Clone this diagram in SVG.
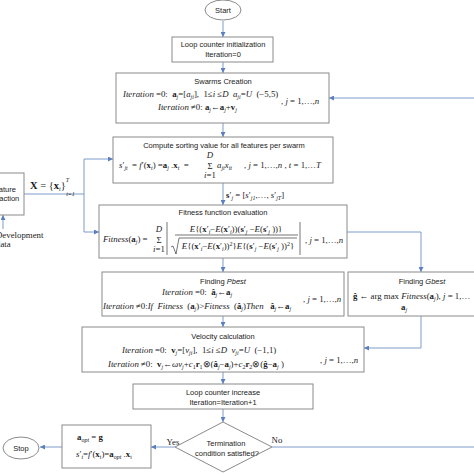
<svg xmlns="http://www.w3.org/2000/svg" width="474" height="474" viewBox="0 0 474 474">
<style>
.box{fill:#fff;stroke:#8a8a8a;stroke-width:1}
.conn{fill:none;stroke:#7391c4;stroke-width:0.9}
.t{font-family:"Liberation Sans",Arial,sans-serif;font-size:7.5px;fill:#1a1a1a;text-anchor:middle}
.m{font-family:"Liberation Serif","Times New Roman",serif;font-size:8.8px;fill:#1a1a1a}
.i{font-style:italic}
.b{font-weight:bold}
.s{font-size:6px}
.bar{fill:none;stroke:#1a1a1a;stroke-width:0.6}
</style>
<defs>
<marker id="ah" viewBox="0 0 6 6" refX="6" refY="3" markerWidth="5" markerHeight="5" orient="auto" markerUnits="userSpaceOnUse">
<path d="M0,0 L6,3 L0,6 z" fill="#5b7fbf"/>
</marker>
</defs>
<rect width="474" height="474" fill="#fff"/>

<g id="connectors">
<path class="conn" d="M223,21 V37" marker-end="url(#ah)"/>
<path class="conn" d="M223,62 V73" marker-end="url(#ah)"/>
<path class="conn" d="M223,123 V137" marker-end="url(#ah)"/>
<path class="conn" d="M223,183 V205" marker-end="url(#ah)"/>
<path class="conn" d="M223,258 V272" marker-end="url(#ah)"/>
<path class="conn" d="M223,316 V327" marker-end="url(#ah)"/>
<path class="conn" d="M223,372 V384" marker-end="url(#ah)"/>
<path class="conn" d="M223,409 V422" marker-end="url(#ah)"/>
<path class="conn" d="M272,447 H482 V98 H329" marker-end="url(#ah)"/>
<path class="conn" d="M24,194 H84 V159 H113" marker-end="url(#ah)"/>
<path class="conn" d="M84,194 V232 H99" marker-end="url(#ah)"/>
<path class="conn" d="M347,232 H421 V272" marker-end="url(#ah)"/>
<path class="conn" d="M421,316 V348 H364" marker-end="url(#ah)"/>
<path class="conn" d="M175,447 H151" marker-end="url(#ah)"/>
<path class="conn" d="M62,447 H40" marker-end="url(#ah)"/>
<path class="conn" d="M3,229 V215" marker-end="url(#ah)"/>
<text class="m" x="173" y="445" text-anchor="middle">Yes</text>
<text class="m" x="277" y="443" text-anchor="middle">No</text>
<text class="m" x="30" y="189"><tspan class="b" font-size="10.5">X</tspan><tspan font-size="10.5"> = {</tspan><tspan class="b" font-size="10.5">x</tspan><tspan class="i s" dy="2">t</tspan><tspan font-size="10.5" dy="-2">}</tspan><tspan class="i s" dy="-7">T</tspan><tspan class="i s" dx="-3" dy="14">t=1</tspan></text>
<text class="m" x="226" y="198" font-size="10.5"><tspan class="b">s</tspan>′<tspan class="i s" dy="2">j</tspan><tspan dy="-2"> = [</tspan><tspan class="i">s</tspan>′<tspan class="i s" dy="2">j1</tspan><tspan dy="-2">,…, </tspan><tspan class="i">s</tspan>′<tspan class="i s" dy="2">jT</tspan><tspan dy="-2">]</tspan></text>
</g>

<g id="start">
<ellipse class="box" cx="223" cy="10" rx="18" ry="10"/>
<text class="t" x="223" y="13">Start</text>
</g>

<g id="init">
<rect class="box" x="172" y="37" width="101" height="25"/>
<text class="t" x="223" y="47">Loop counter initialization</text>
<text class="t" x="223" y="57">Iteration=0</text>
</g>

<g id="swarms">
<rect class="box" x="116" y="73" width="213" height="50"/>
<text class="t" x="223" y="84">Swarms Creation</text>
<text class="m" x="123" y="97"><tspan class="i">Iteration</tspan> =0:&#160; <tspan class="b">a</tspan><tspan class="i s" dy="2">j</tspan><tspan dy="-2">=[</tspan><tspan class="i">a</tspan><tspan class="i s" dy="2">ji</tspan><tspan dy="-2">],&#160; 1≤</tspan><tspan class="i">i</tspan> ≤<tspan class="i">D</tspan>&#160; <tspan class="i">a</tspan><tspan class="i s" dy="2">ji</tspan><tspan dy="-2">=</tspan><tspan class="i">U</tspan>&#160; (−5,5)</text>
<text class="m" x="158" y="110"><tspan class="i">Iteration</tspan> ≠0: <tspan class="b">a</tspan><tspan class="i s" dy="2">j</tspan><tspan dy="-2">←</tspan><tspan class="b">a</tspan><tspan class="i s" dy="2">j</tspan><tspan dy="-2">+</tspan><tspan class="b">v</tspan><tspan class="i s" dy="2">j</tspan></text>
<text class="m" x="281" y="104">, <tspan class="i">j</tspan> = 1,…,<tspan class="i">n</tspan></text>
</g>

<g id="feature">
<rect class="box" x="-20" y="173" width="44" height="42"/>
<text class="t" x="3" y="192">Feature</text>
<text class="t" x="3" y="201">extraction</text>
<text class="m" x="-4" y="238" font-size="7.5">Development</text>
<text class="m" x="-4" y="247" font-size="7.5">data</text>
</g>

<g id="compute">
<rect class="box" x="113" y="137" width="220" height="46"/>
<text class="t" x="224" y="148">Compute sorting value for all features per swarm</text>
<text class="m" x="119" y="168"><tspan class="i">s</tspan>′<tspan class="i s" dy="2">jt</tspan><tspan dy="-2">&#160; = </tspan><tspan class="i">f</tspan>′(<tspan class="b">x</tspan><tspan class="i s" dy="2">t</tspan><tspan dy="-2">) =</tspan><tspan class="b">a</tspan><tspan class="i s" dy="2">j</tspan><tspan dy="-2"> .</tspan><tspan class="b">x</tspan><tspan class="i s" dy="2">t</tspan><tspan dy="-2">&#160; =</tspan></text>
<text class="m" x="210" y="169" text-anchor="middle" font-size="9">Σ</text>
<text class="m i" x="210" y="158" text-anchor="middle" font-size="7">D</text>
<text class="m" x="210" y="178" text-anchor="middle" font-size="6"><tspan class="i">i</tspan>=1</text>
<text class="m" x="217" y="168"><tspan class="i">a</tspan><tspan class="i s" dy="2">ji</tspan><tspan class="i" dy="-2">x</tspan><tspan class="i s" dy="2">it</tspan></text>
<text class="m" x="244" y="168">, <tspan class="i">j</tspan> = 1,…,<tspan class="i">n</tspan> , <tspan class="i">t</tspan> = 1,…<tspan class="i">T</tspan></text>
</g>

<g id="fitness">
<rect class="box" x="99" y="205" width="248" height="53"/>
<text class="t" x="223" y="215">Fitness function evaluation</text>
<text class="m" x="103" y="242"><tspan class="i">Fitness</tspan>(<tspan class="b">a</tspan><tspan class="i s" dy="2">j</tspan><tspan dy="-2">) =</tspan></text>
<text class="m" x="159" y="243" text-anchor="middle" font-size="9">Σ</text>
<text class="m i" x="159" y="232" text-anchor="middle" font-size="7">D</text>
<text class="m" x="159" y="252" text-anchor="middle" font-size="6"><tspan class="i">i</tspan>=1</text>
<path class="bar" d="M167,222 V255 M300,222 V255 M175,235 H298 M171,247 L173,246 L176,254 L179,238 H297"/>
<text class="m" x="236" y="232" text-anchor="middle" font-size="7.5"><tspan class="i">E</tspan>{(<tspan class="b">x</tspan>′<tspan class="i s" dy="1.5">i</tspan><tspan dy="-1.5">−</tspan><tspan class="i">E</tspan>(<tspan class="b">x</tspan>′<tspan class="i s" dy="1.5">i</tspan><tspan dy="-1.5">))(</tspan><tspan class="b">s</tspan>′<tspan class="i s" dy="1.5">j</tspan><tspan dy="-1.5"> −</tspan><tspan class="i">E</tspan>(<tspan class="b">s</tspan>′<tspan class="i s" dy="1.5">j</tspan><tspan dy="-1.5"> ))}</tspan></text>
<text class="m" x="238" y="249" text-anchor="middle" font-size="7.5"><tspan class="i">E</tspan>{(<tspan class="b">x</tspan>′<tspan class="i s" dy="1.5">i</tspan><tspan dy="-1.5">−</tspan><tspan class="i">E</tspan>(<tspan class="b">x</tspan>′<tspan class="i s" dy="1.5">i</tspan><tspan dy="-1.5">))</tspan><tspan class="s" dy="-3">2</tspan><tspan dy="3">}</tspan><tspan class="i">E</tspan>{(<tspan class="b">s</tspan>′<tspan class="i s" dy="1.5">j</tspan><tspan dy="-1.5"> −</tspan><tspan class="i">E</tspan>(<tspan class="b">s</tspan>′<tspan class="i s" dy="1.5">j</tspan><tspan dy="-1.5"> ))</tspan><tspan class="s" dy="-3">2</tspan><tspan dy="3">}</tspan></text>
<text class="m" x="305" y="243">, <tspan class="i">j</tspan> = 1,…,<tspan class="i">n</tspan></text>
</g>

<g id="pbest">
<rect class="box" x="102" y="272" width="242" height="44"/>
<text class="t" x="223" y="284">Finding <tspan font-style="italic">Pbest</tspan></text>
<text class="m" x="162" y="295"><tspan class="i">Iteration</tspan> =0:&#160; <tspan class="b">â</tspan><tspan class="i s" dy="2">j</tspan><tspan dy="-2">←</tspan><tspan class="b">a</tspan><tspan class="i s" dy="2">j</tspan></text>
<text class="m" x="103" y="309"><tspan class="i">Iteration</tspan> ≠0:<tspan class="i">If</tspan>&#160; <tspan class="i">Fitness</tspan>&#160; (<tspan class="b">a</tspan><tspan class="i s" dy="2">j</tspan><tspan dy="-2">)&gt;</tspan><tspan class="i">Fitness</tspan>&#160; (<tspan class="b">â</tspan><tspan class="i s" dy="2">j</tspan><tspan dy="-2">)</tspan><tspan class="i">Then</tspan>&#160;&#160; <tspan class="b">â</tspan><tspan class="i s" dy="2">j</tspan><tspan dy="-2">←</tspan><tspan class="b">a</tspan><tspan class="i s" dy="2">j</tspan></text>
<text class="m" x="303" y="302">, <tspan class="i">j</tspan> = 1,…,<tspan class="i">n</tspan></text>
</g>

<g id="gbest">
<rect class="box" x="348" y="272" width="140" height="44"/>
<text class="t" x="422" y="284">Finding <tspan font-style="italic">Gbest</tspan></text>
<text class="m" x="353" y="299"><tspan class="b">ĝ</tspan> ← arg max <tspan class="i">Fitness</tspan>(<tspan class="b">a</tspan><tspan class="i s" dy="2">j</tspan><tspan dy="-2">), </tspan><tspan class="i">j</tspan> = 1,…</text>
<text class="m" x="401" y="310"><tspan class="b">a</tspan><tspan class="i s" dy="2">j</tspan></text>
</g>

<g id="velocity">
<rect class="box" x="82" y="327" width="282" height="45"/>
<text class="t" x="223" y="339">Velocity calculation</text>
<text class="m" x="122" y="353"><tspan class="i">Iteration</tspan> =0:&#160; <tspan class="b">v</tspan><tspan class="i s" dy="2">j</tspan><tspan dy="-2">=[</tspan><tspan class="i">v</tspan><tspan class="i s" dy="2">ji</tspan><tspan dy="-2">],&#160; 1≤</tspan><tspan class="i">i</tspan> ≤<tspan class="i">D</tspan>&#160; <tspan class="i">v</tspan><tspan class="i s" dy="2">ji</tspan><tspan dy="-2">=</tspan><tspan class="i">U</tspan>&#160; (−1,1)</text>
<text class="m" x="108" y="367"><tspan class="i">Iteration</tspan> ≠0:&#160; <tspan class="b">v</tspan><tspan class="i s" dy="2">j</tspan><tspan dy="-2">←</tspan><tspan class="i">ωv</tspan><tspan class="i s" dy="2">j</tspan><tspan dy="-2">+</tspan><tspan class="i">c</tspan><tspan class="s" dy="2">1</tspan><tspan class="b" dy="-2">r</tspan><tspan class="s" dy="2">1</tspan><tspan dy="-2">⊗(</tspan><tspan class="b">â</tspan><tspan class="i s" dy="2">j</tspan><tspan dy="-2">−</tspan><tspan class="b">a</tspan><tspan class="i s" dy="2">j</tspan><tspan dy="-2">)+</tspan><tspan class="i">c</tspan><tspan class="s" dy="2">2</tspan><tspan class="b" dy="-2">r</tspan><tspan class="s" dy="2">2</tspan><tspan dy="-2">⊗(</tspan><tspan class="b">ĝ</tspan>−<tspan class="b">a</tspan><tspan class="i s" dy="2">j</tspan><tspan dy="-2"> )</tspan></text>
<text class="m" x="320" y="363">, <tspan class="i">j</tspan> = 1,…,<tspan class="i">n</tspan></text>
</g>

<g id="increase">
<rect class="box" x="133" y="384" width="180" height="25"/>
<text class="t" x="223" y="395">Loop counter increase</text>
<text class="t" x="223" y="405">Iteration=Iteration+1</text>
</g>

<g id="termination">
<polygon class="box" points="223,422 272,447 223,472 175,447"/>
<text class="t" x="226" y="446">Termination</text>
<text class="t" x="227" y="456">condition satisfied?</text>
</g>

<g id="result">
<rect class="box" x="62" y="425" width="89" height="43"/>
<text class="m" x="77" y="440"><tspan class="b">a</tspan><tspan class="i s" dy="2">opt</tspan><tspan dy="-2"> = </tspan><tspan class="b">g</tspan></text>
<text class="m" x="76" y="457"><tspan class="i">s</tspan>′<tspan class="i s" dy="2">t</tspan><tspan dy="-2">=</tspan><tspan class="i">f</tspan>′(<tspan class="b">x</tspan><tspan class="s" dy="2">t</tspan><tspan dy="-2">)=</tspan><tspan class="b">a</tspan><tspan class="i s" dy="2">opt</tspan><tspan dy="-2"> .</tspan><tspan class="b">x</tspan><tspan class="s" dy="2">t</tspan></text>
</g>

<g id="stop">
<ellipse class="box" cx="21" cy="448" rx="18" ry="11"/>
<text class="t" x="21" y="451">Stop</text>
</g>
</svg>
